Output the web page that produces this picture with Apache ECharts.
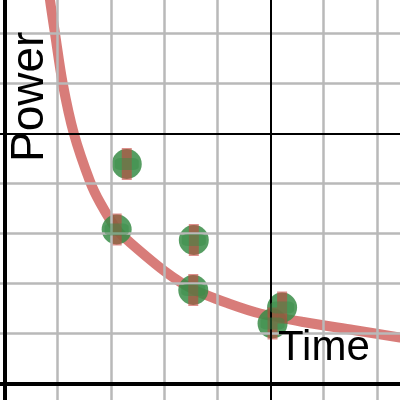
<!DOCTYPE html>
<html>
<head>
<meta charset="utf-8">
<script src="https://cdn.jsdelivr.net/npm/echarts@6/dist/echarts.min.js"></script>
<style>html,body{margin:0;padding:0;background:#fff;}#c{width:400px;height:400px;}</style>
</head>
<body>
<div id="c"></div>
<script>
// ---- data ----
var xLabel = 'Time';
var yLabel = 'Power';
var pointX = [2.30, 2.11, 3.56, 3.55, 5.22, 5.04];
var pointY = [4.39, 3.08, 2.87, 1.87, 1.52, 1.20];
var curveX = [0.80, 0.857, 0.951, 1.096, 1.305, 1.609, 1.797, 2.111, 2.361, 3.019, 3.551, 4.241, 4.805, 5.618, 6.558, 7.436, 7.6];
var curveY = [8.20, 7.67, 7.00, 6.00, 5.00, 4.04, 3.62, 3.08, 2.82, 2.24, 1.88, 1.59, 1.40, 1.23, 1.07, 0.92, 0.90];
var minorTicks = [1, 2, 3, 4, 6, 7];
var majorTicks = [5];
var axisTicks = [0];

// ---- build ----
function zip(a, b) { return a.map(function (v, i) { return [v, b[i]]; }); }
function lines(key, ticks, color, width) {
  return ticks.map(function (t) {
    var o = { lineStyle: { color: color, width: width, type: 'solid', opacity: 1 } };
    o[key] = t;
    return o;
  });
}
var gridData = []
  .concat(lines('xAxis', minorTicks, '#b9b9b9', 2.5))
  .concat(lines('yAxis', minorTicks, '#b9b9b9', 2.5))
  .concat(lines('xAxis', majorTicks, '#000', 2))
  .concat(lines('yAxis', majorTicks, '#000', 2))
  .concat(lines('xAxis', axisTicks, '#000', 4))
  .concat(lines('yAxis', axisTicks, '#000', 4));

var pts = zip(pointX, pointY);
var chart = echarts.init(document.getElementById('c'), null, { renderer: 'canvas' });
chart.setOption({
  animation: false,
  backgroundColor: '#fff',
  grid: { left: 0, right: 0, top: 0, bottom: 0 },
  xAxis: { type: 'value', min: -0.083, max: 7.436, show: false },
  yAxis: { type: 'value', min: -0.33, max: 7.67, show: false },
  series: [
    {
      type: 'line', data: [], z: 1, silent: true,
      markLine: {
        silent: true, symbol: ['none', 'none'], label: { show: false },
        animation: false, data: gridData
      }
    },
    {
      type: 'line', data: zip(curveX, curveY), z: 2, smooth: 0.3,
      showSymbol: false, clip: true, silent: true,
      lineStyle: { color: '#c74440', width: 10, opacity: 0.7 }
    },
    {
      type: 'scatter', data: pts, z: 3, symbol: 'circle', symbolSize: 30,
      itemStyle: { color: '#388c46', opacity: 0.85 }
    },
    {
      type: 'scatter', data: pts, z: 4, symbol: 'rect', symbolSize: [10, 32],
      itemStyle: { color: '#c74440', opacity: 0.6 }
    },
    {
      type: 'scatter', data: pts, z: 5, symbol: 'roundRect', symbolSize: [24, 12],
      itemStyle: { color: '#388c46', opacity: 0.45 }
    }
  ],
  graphic: [
    {
      type: 'text', x: 278, y: 348, z: 10,
      style: { text: xLabel, font: '42px "Liberation Sans", Arial, sans-serif', fill: '#000', align: 'left', verticalAlign: 'middle' }
    },
    {
      type: 'text', x: 30, y: 162, rotation: Math.PI / 2, z: 10,
      style: { text: yLabel, font: '46px "Liberation Sans", Arial, sans-serif', fill: '#000', align: 'left', verticalAlign: 'middle' }
    }
  ]
});
</script>
</body>
</html>
